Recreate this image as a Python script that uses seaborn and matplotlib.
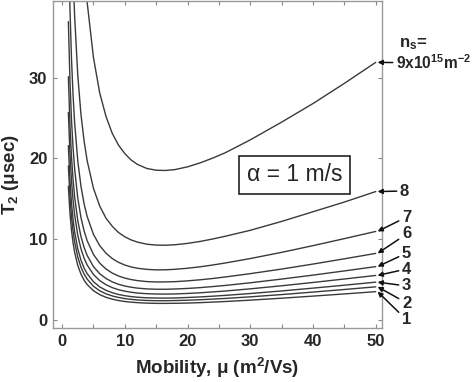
import matplotlib
matplotlib.use("Agg")
import matplotlib.pyplot as plt
import seaborn as sns
import pandas as pd

# ---- data ----
mobility = [1, 1.25, 1.5, 1.75, 2, 2.5, 3, 3.5, 4, 5,
            6, 7, 8, 9, 10, 11, 12, 13.5, 15, 16.5,
            18, 20, 22, 24, 26, 30, 35, 40, 45, 50]

t2_ns9 = [148.6, 119.1, 99.5, 85.6, 75.2, 60.6, 51.1, 44.3, 39.3, 32.5,
          28.1, 25.2, 23.1, 21.64, 20.6, 19.81, 19.27, 18.76, 18.54, 18.51,
          18.62, 18.96, 19.45, 20.04, 20.7, 22.3, 24.5, 26.8, 29.3, 31.9]
t2_ns8 = [74.3, 59.6, 49.8, 42.8, 37.6, 30.3, 25.5, 22.2, 19.7, 16.3,
          14.1, 12.6, 11.6, 10.82, 10.3, 9.91, 9.64, 9.38, 9.27, 9.25,
          9.31, 9.48, 9.72, 10.02, 10.36, 11.1, 12.2, 13.4, 14.6, 15.9]
t2_ns7 = [48.2, 38.65, 32.3, 27.8, 24.4, 19.7, 16.6, 14.4, 12.8, 10.6,
          9.2, 8.26, 7.6, 7.13, 6.8, 6.56, 6.4, 6.26, 6.2, 6.21,
          6.27, 6.4, 6.58, 6.8, 7.05, 7.6, 8.37, 9.2, 10.07, 10.96]
t2_ns6 = [36.95, 29.63, 24.76, 21.29, 18.7, 15.1, 12.72, 11.04, 9.8, 8.11,
          7.03, 6.31, 5.8, 5.44, 5.18, 5.0, 4.87, 4.75, 4.7, 4.71,
          4.74, 4.84, 4.97, 5.13, 5.32, 5.73, 6.3, 6.92, 7.57, 8.24]
t2_ns5 = [30.12, 24.15, 20.18, 17.35, 15.24, 12.3, 10.36, 8.99, 7.98, 6.6,
          5.72, 5.13, 4.71, 4.41, 4.2, 4.05, 3.94, 3.84, 3.8, 3.8,
          3.83, 3.9, 4.0, 4.13, 4.27, 4.6, 5.06, 5.55, 6.07, 6.6]
t2_ns4 = [25.7, 20.6, 17.22, 14.8, 13.0, 10.49, 8.83, 7.66, 6.8, 5.62,
          4.87, 4.36, 4.0, 3.74, 3.56, 3.43, 3.33, 3.25, 3.21, 3.2,
          3.22, 3.28, 3.36, 3.47, 3.58, 3.85, 4.23, 4.64, 5.07, 5.51]
t2_ns3 = [21.59, 17.31, 14.46, 12.44, 10.92, 8.81, 7.42, 6.44, 5.72, 4.73,
          4.09, 3.67, 3.37, 3.15, 3.0, 2.89, 2.81, 2.74, 2.71, 2.7,
          2.72, 2.78, 2.85, 2.94, 3.04, 3.27, 3.59, 3.94, 4.3, 4.68]
t2_ns2 = [19.07, 15.29, 12.78, 10.99, 9.65, 7.79, 6.56, 5.69, 5.05, 4.17,
          3.61, 3.23, 2.97, 2.78, 2.64, 2.55, 2.47, 2.41, 2.38, 2.38,
          2.4, 2.44, 2.5, 2.58, 2.66, 2.86, 3.14, 3.45, 3.77, 4.1]
t2_ns1 = [16.56, 13.28, 11.1, 9.54, 8.38, 6.76, 5.69, 4.93, 4.38, 3.62,
          3.13, 2.8, 2.57, 2.4, 2.28, 2.2, 2.14, 2.08, 2.05, 2.05,
          2.06, 2.09, 2.14, 2.21, 2.28, 2.45, 2.69, 2.95, 3.22, 3.5]

series = {"9": t2_ns9, "8": t2_ns8, "7": t2_ns7, "6": t2_ns6, "5": t2_ns5,
          "4": t2_ns4, "3": t2_ns3, "2": t2_ns2, "1": t2_ns1}

x_ticks = [0, 5, 10, 15, 20, 25, 30, 35, 40, 45, 50]
x_tick_labels = ["0", "", "10", "", "20", "", "30", "", "40", "", "50"]
y_ticks = [0, 10, 20, 30]
y_tick_labels = ["0", "10", "20", "30"]

# ---- build long table ----
rows = []
for ns, vals in series.items():
    for m, t in zip(mobility, vals):
        rows.append({"mu": m, "T2": t, "ns": ns})
df = pd.DataFrame(rows)

sns.set_theme(style="white")
plt.rcParams["font.family"] = ["Liberation Sans", "DejaVu Sans"]
plt.rcParams["mathtext.fontset"] = "custom"
plt.rcParams["mathtext.rm"] = "Liberation Sans"
plt.rcParams["mathtext.bf"] = "Liberation Sans:bold"
plt.rcParams["mathtext.it"] = "Liberation Sans:italic"

fig = plt.figure(figsize=(4.74, 3.82), dpi=100)
W, H = 474, 382
L, R, T, B = 53, 382, 1, 328
ax = fig.add_axes([L / W, 1 - B / H, (R - L) / W, (B - T) / H])

sns.lineplot(data=df, x="mu", y="T2", units="ns", estimator=None,
             color="#3a3a3a", linewidth=1.0, ax=ax, legend=False, sort=False)

ax.set_xlim(-1.45, 51.0)
ax.set_ylim(-1.0, 39.5)

ax.set_xticks(x_ticks)
ax.set_xticklabels(x_tick_labels, fontsize=12, fontweight="bold")
ax.set_yticks(y_ticks)
ax.set_yticklabels(y_tick_labels, fontsize=12, fontweight="bold")
ax.tick_params(direction="in", length=3, width=0.8, color="#888888",
               top=True, right=True, bottom=True, left=True, pad=4)

for s in ax.spines.values():
    s.set_color("#999999")
    s.set_linewidth(1.0)

ax.set_xlabel("Mobility, \u03bc (m$^\\mathbf{2}$/Vs)", fontsize=13.5, fontweight="bold", labelpad=5)
ax.set_ylabel("T$_\\mathbf{2}$ (\u03bcsec)", fontsize=13.5, fontweight="bold")
ax.yaxis.set_label_coords(-0.098, 0.47)

# alpha box
ax.text(0.734, 0.468, "\u03b1 = 1 m/s", transform=ax.transAxes, fontsize=16.5,
        ha="center", va="center",
        bbox=dict(boxstyle="square,pad=0.32", fc="white", ec="#222222", lw=1.2))

# right-side labels with arrows (text positions in figure pixels)
def px(x, y):
    return (x / W, 1 - y / H)

arrow = dict(arrowstyle="-|>", color="#111111", lw=1.1, mutation_scale=7,
             shrinkA=0, shrinkB=0)

end_vals = {ns: vals[-1] for ns, vals in series.items()}
label_pos = {"8": (400, 191), "7": (402, 217), "6": (402, 234), "5": (402, 253),
             "4": (402, 269), "3": (402, 286), "2": (402, 303), "1": (402, 320)}
for ns, (lx, ly) in label_pos.items():
    ax.annotate(ns, xy=(50.3, end_vals[ns]), xycoords="data",
                xytext=px(lx, ly), textcoords="figure fraction",
                fontsize=12, fontweight="bold", ha="left", va="center",
                arrowprops=arrow, annotation_clip=False)

ax.annotate("9x10$^\\mathbf{15}$m$^\\mathbf{-2}$", xy=(50.3, end_vals["9"]), xycoords="data",
            xytext=px(396, 63), textcoords="figure fraction",
            fontsize=11.2, fontweight="bold", ha="left", va="center",
            arrowprops=arrow, annotation_clip=False)
fig.text(*px(399, 44), "n$_\\mathbf{s}$=", fontsize=12, fontweight="bold",
         ha="left", va="center")

fig.savefig("out.png", dpi=100)
